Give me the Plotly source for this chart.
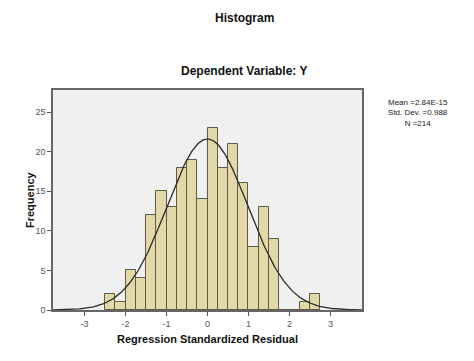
import numpy as np
import plotly.graph_objects as go

bin_centers = [-2.375, -2.125, -1.875, -1.625, -1.375, -1.125, -0.875, -0.625, -0.375, -0.125,
               0.125, 0.375, 0.625, 0.875, 1.125, 1.375, 1.625, 1.875, 2.125, 2.375, 2.625]
counts = [2, 1, 5, 4, 12, 15, 13, 18, 19, 14,
          23, 18, 21, 16, 8, 13, 9, 0, 0, 1, 2]
bin_width = 0.25
mean_val = 2.84e-15
std_val = 0.988
n_val = 214
x_ticks = [-3, -2, -1, 0, 1, 2, 3]
y_ticks = [0, 5, 10, 15, 20, 25]

xs = np.linspace(-3.77, 3.77, 300)
ys = n_val * bin_width / (std_val * np.sqrt(2 * np.pi)) * np.exp(-0.5 * ((xs - mean_val) / std_val) ** 2)

fig = go.Figure()
fig.add_trace(go.Bar(x=bin_centers, y=counts, width=bin_width,
                     marker=dict(color="#e2d8a8", line=dict(color="#5e5a48", width=1)),
                     hoverinfo="x+y"))
fig.add_trace(go.Scatter(x=xs, y=ys, mode="lines", line=dict(color="#2a2a2a", width=1.3),
                         hoverinfo="skip"))

font_main = "Liberation Sans, Arial, sans-serif"
L, R, T, B, W, H = 53, 112, 90, 51, 474, 361
fig.update_layout(
    width=W, height=H,
    margin=dict(l=L, r=R, t=T, b=B),
    paper_bgcolor="white", plot_bgcolor="#f0f0f0",
    showlegend=False, bargap=0,
    font=dict(family=font_main, color="#333"),
    xaxis=dict(range=[-3.77, 3.77], tickvals=x_ticks, ticktext=[str(v) for v in x_ticks],
               ticks="outside", ticklen=4, tickcolor="#555", showgrid=False, zeroline=False,
               showline=True, linecolor="#666", linewidth=1.5, mirror=True,
               tickfont=dict(size=9, color="#555"),
               title=dict(text="<b>Regression Standardized Residual</b>", font=dict(size=11, color="#111"), standoff=8)),
    yaxis=dict(range=[0, 27.8], tickvals=y_ticks, ticktext=[str(v) for v in y_ticks],
               ticks="outside", ticklen=4, tickcolor="#555", showgrid=False, zeroline=False,
               showline=True, linecolor="#666", linewidth=1.5, mirror=True,
               tickfont=dict(size=9, color="#555")),
)
plot_w = W - L - R
plot_h = H - T - B
def px_to_paper(px, py):
    return (px - L) / plot_w, (H - B - py) / plot_h

hx, hy = px_to_paper(244, 18)
dx, dy = px_to_paper(245, 71)
ax_, ay_ = px_to_paper(418, 113)
fx, fy = px_to_paper(30, 200)
fig.add_annotation(text="<b>Histogram</b>", x=hx, y=hy, xref="paper", yref="paper",
                   showarrow=False, font=dict(size=12, color="#111"), xanchor="center", yanchor="middle")
fig.add_annotation(text="<b>Dependent Variable: Y</b>", x=dx, y=dy, xref="paper", yref="paper",
                   showarrow=False, font=dict(size=12, color="#111"), xanchor="center", yanchor="middle")
fig.add_annotation(text="<b>Frequency</b>", x=fx, y=fy, xref="paper", yref="paper", textangle=-90,
                   showarrow=False, font=dict(size=11, color="#111"), xanchor="center", yanchor="middle")
fig.add_annotation(text=f"Mean =2.84E-15<br>Std. Dev. ={std_val}<br>N ={n_val}",
                   x=ax_, y=ay_, xref="paper", yref="paper", showarrow=False, align="center",
                   font=dict(size=8, color="#222"), xanchor="center", yanchor="middle")

fig.write_html("out.html", config={"displayModeBar": False},
               post_script="document.body.style.margin='0';document.body.style.padding='0';")
